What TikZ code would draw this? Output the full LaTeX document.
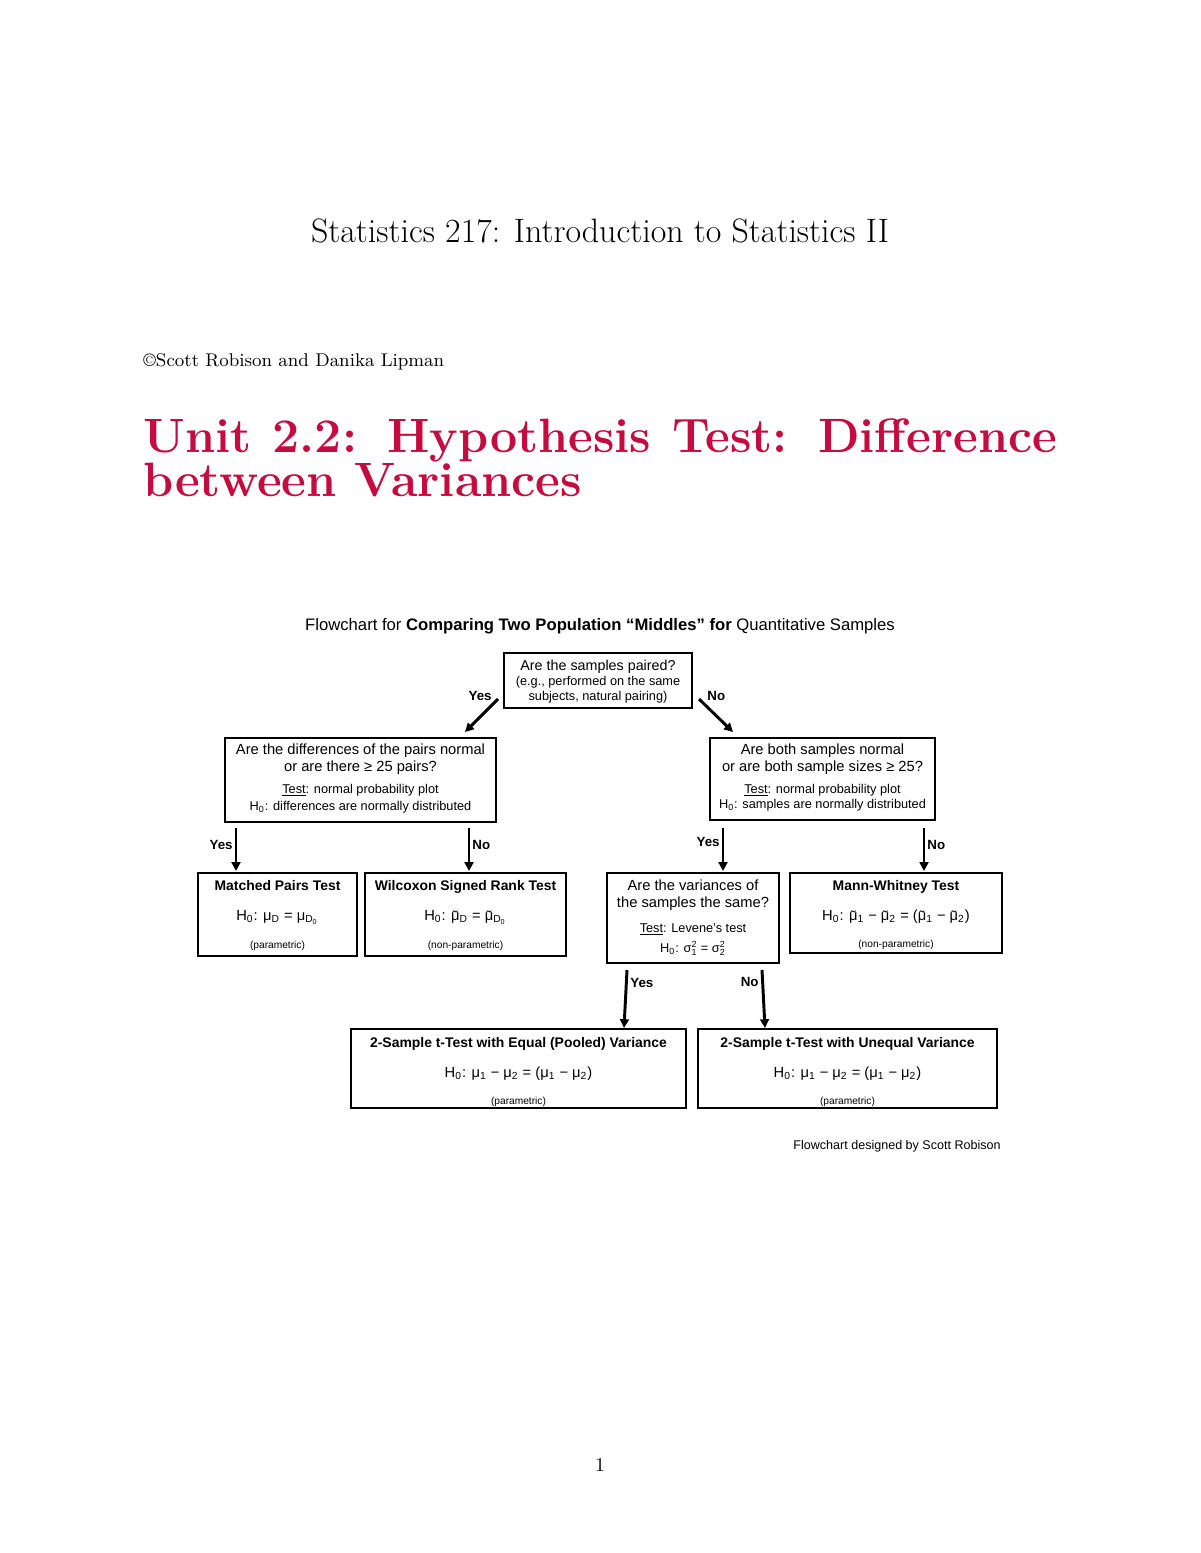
\documentclass[tikz,border=0pt]{standalone}
\usepackage{amsmath}
\usepackage{fontspec}
\usetikzlibrary{arrows.meta,fit}
\newfontfamily\arialf{Liberation Sans}
\definecolor{headred}{RGB}{196,12,64}
\newcommand\ftxt{\arialf\fontsize{7.5}{9}\selectfont}
\newcommand\fsml{\arialf\fontsize{6.5}{8}\selectfont}
\newcommand\fpar{\arialf\fontsize{5.2}{6}\selectfont}
\newcommand\fhd{\arialf\bfseries\fontsize{7.1}{9}\selectfont}
\newcommand\flab{\arialf\bfseries\fontsize{6.8}{8}\selectfont}
\newcommand\sbs[1]{\textsubscript{#1}}
\newcommand\mut{\mbox{\ooalign{μ\cr\hidewidth\raisebox{-0.15ex}{\char"02DC}\hidewidth\cr}}}
\begin{document}
\begin{tikzpicture}[x=0.51pt,y=-0.51pt,
  flowbox/.style={draw,line width=0.8pt,inner sep=0pt},
  txt/.style={anchor=base,inner sep=0pt,align=center},
  lab/.style={anchor=base,inner sep=0pt,font=\flab},
  arr/.style={line width=1.5pt,-{Triangle[length=4.5pt,width=4.5pt]}}]
\useasboundingbox (0,0) rectangle (1200,1553);
\fill[white] (0,0) rectangle (1200,1553);

% page header
\node[txt,font=\fontsize{17.28}{21}\selectfont] (course) at (600,243) {Statistics 217: Introduction to Statistics II};
\node[txt,anchor=base west,font=\fontsize{9.4}{11}\selectfont] (copy) at (143,366) {\textcopyright Scott Robison and Danika Lipman};
\node[txt,anchor=base west,text=headred,font=\bfseries\fontsize{24.6}{23}\selectfont] (head1) at (143,452)
  {\makebox[466pt][s]{Unit 2.2: Hypothesis Test: Difference}};
\node[txt,anchor=base west,text=headred,font=\bfseries\fontsize{24.6}{23}\selectfont] (head2) at (143,496) {between Variances};

% flowchart title
\node[txt] (ftitle) at (600,630) {\arialf\fontsize{8.5}{10}\selectfont Flowchart for \textbf{Comparing Two Population “Middles” for} Quantitative Samples};

% boxes
\node[flowbox,fit={(504,653) (692,708)}] (top) {};
\node[flowbox,fit={(225,738) (496,822)}] (bA) {};
\node[flowbox,fit={(710,738) (935,820)}] (bB) {};
\node[flowbox,fit={(198,873) (357,956)}] (bC) {};
\node[flowbox,fit={(365,873) (566,956)}] (bD) {};
\node[flowbox,fit={(607,873) (779,963)}] (bE) {};
\node[flowbox,fit={(790,873) (1002,953)}] (bF) {};
\node[flowbox,fit={(351,1029) (686,1108)}] (bG) {};
\node[flowbox,fit={(698,1029) (997,1108)}] (bH) {};

% top box text
\node[txt,font=\arialf\fontsize{7.3}{9}\selectfont] (t1) at (598,670) {Are the samples paired?};
\node[txt,font=\fsml] (t2) at (598,685) {(e.g., performed on the same};
\node[txt,font=\fsml] (t3) at (598,700) {subjects, natural pairing)};

% box A
\node[txt,font=\ftxt] (a1) at (360.5,754) {Are the differences of the pairs normal};
\node[txt,font=\ftxt] (a2) at (360.5,771) {or are there ≥ 25 pairs?};
\node[txt,font=\fsml] (a3) at (360.5,793) {\underline{Test}: normal probability plot};
\node[txt,font=\fsml] (a4) at (360.5,810) {H\sbs{0}: differences are normally distributed};

% box B
\node[txt,font=\ftxt] (b1) at (822.5,754) {Are both samples normal};
\node[txt,font=\ftxt] (b2) at (822.5,771) {or are both sample sizes ≥ 25?};
\node[txt,font=\fsml] (b3) at (822.5,793) {\underline{Test}: normal probability plot};
\node[txt,font=\fsml] (b4) at (822.5,808) {H\sbs{0}: samples are normally distributed};

% box C
\node[txt,font=\fhd] (c1) at (277.5,890) {Matched Pairs Test};
\node[txt,font=\ftxt] (c2) at (277.5,920) {H\sbs{0}: μ\sbs{D} = μ\sbs{D\sbs{0}}};
\node[txt,font=\fpar] (c3) at (277.5,948) {(parametric)};

% box D
\node[txt,font=\fhd] (d1) at (465.5,890) {Wilcoxon Signed Rank Test};
\node[txt,font=\ftxt] (d2) at (465.5,920) {H\sbs{0}: \mut\sbs{D} = \mut\sbs{D\sbs{0}}};
\node[txt,font=\fpar] (d3) at (465.5,948) {(non-parametric)};

% box E
\node[txt,font=\ftxt] (e1) at (693,890) {Are the variances of};
\node[txt,font=\ftxt] (e2) at (693,907) {the samples the same?};
\node[txt,font=\fsml] (e3) at (693,932) {\underline{Test}: Levene’s test};
\node[txt,font=\fsml] (e4) at (693,952) {H\sbs{0}: σ$^{\text{2}}_{\text{1}}$ = σ$^{\text{2}}_{\text{2}}$};

% box F
\node[txt,font=\fhd] (f1) at (896,890) {Mann-Whitney Test};
\node[txt,font=\ftxt] (f2) at (896,920) {H\sbs{0}: \mut\sbs{1} − \mut\sbs{2} = (\mut\sbs{1} − \mut\sbs{2})};
\node[txt,font=\fpar] (f3) at (896,947) {(non-parametric)};

% box G
\node[txt,font=\fhd] (g1) at (518.5,1047) {2-Sample t-Test with Equal (Pooled) Variance};
\node[txt,font=\ftxt] (g2) at (518.5,1077) {H\sbs{0}: μ\sbs{1} − μ\sbs{2} = (μ\sbs{1} − μ\sbs{2})};
\node[txt,font=\fpar] (g3) at (518.5,1104) {(parametric)};

% box H
\node[txt,font=\fhd] (h1) at (847.5,1047) {2-Sample t-Test with Unequal Variance};
\node[txt,font=\ftxt] (h2) at (847.5,1077) {H\sbs{0}: μ\sbs{1} − μ\sbs{2} = (μ\sbs{1} − μ\sbs{2})};
\node[txt,font=\fpar] (h3) at (847.5,1104) {(parametric)};

% credit
\node[txt,anchor=base east,font=\arialf\fontsize{6.4}{8}\selectfont] (credit) at (1001,1149) {Flowchart designed by Scott Robison};

% connectors
\coordinate (s1) at (498,699); \coordinate (e1a) at (465,732);
\coordinate (s2) at (699,699); \coordinate (e2a) at (733,732);
\coordinate (s3) at (236,828); \coordinate (e3a) at (236,871);
\coordinate (s4) at (469,828); \coordinate (e4a) at (469,871);
\coordinate (s5) at (723,828); \coordinate (e5a) at (723,871);
\coordinate (s6) at (924,828); \coordinate (e6a) at (924,871);
\coordinate (s7) at (627,970); \coordinate (e7a) at (624,1028);
\coordinate (s8) at (762,970); \coordinate (e8a) at (765,1028);
\draw[arr] (s1) -- (e1a);
\draw[arr] (s2) -- (e2a);
\draw[arr] (s3) -- (e3a);
\draw[arr] (s4) -- (e4a);
\draw[arr] (s5) -- (e5a);
\draw[arr] (s6) -- (e6a);
\draw[arr] (s7) -- (e7a);
\draw[arr] (s8) -- (e8a);

% arrow labels
\node[lab,anchor=base east] (l1) at (492,700) {Yes};
\node[lab,anchor=base west] (l2) at (707,700) {No};
\node[lab,anchor=base east] (l3) at (233,849) {Yes};
\node[lab,anchor=base west] (l4) at (472,849) {No};
\node[lab,anchor=base east] (l5) at (720,846) {Yes};
\node[lab,anchor=base west] (l6) at (927,849) {No};
\node[lab,anchor=base west] (l7) at (630,987) {Yes};
\node[lab,anchor=base east] (l8) at (759,986) {No};

% page number
\node[txt,font=\fontsize{10}{12}\selectfont] (pnum) at (600,1471) {1};
\end{tikzpicture}
\end{document}
